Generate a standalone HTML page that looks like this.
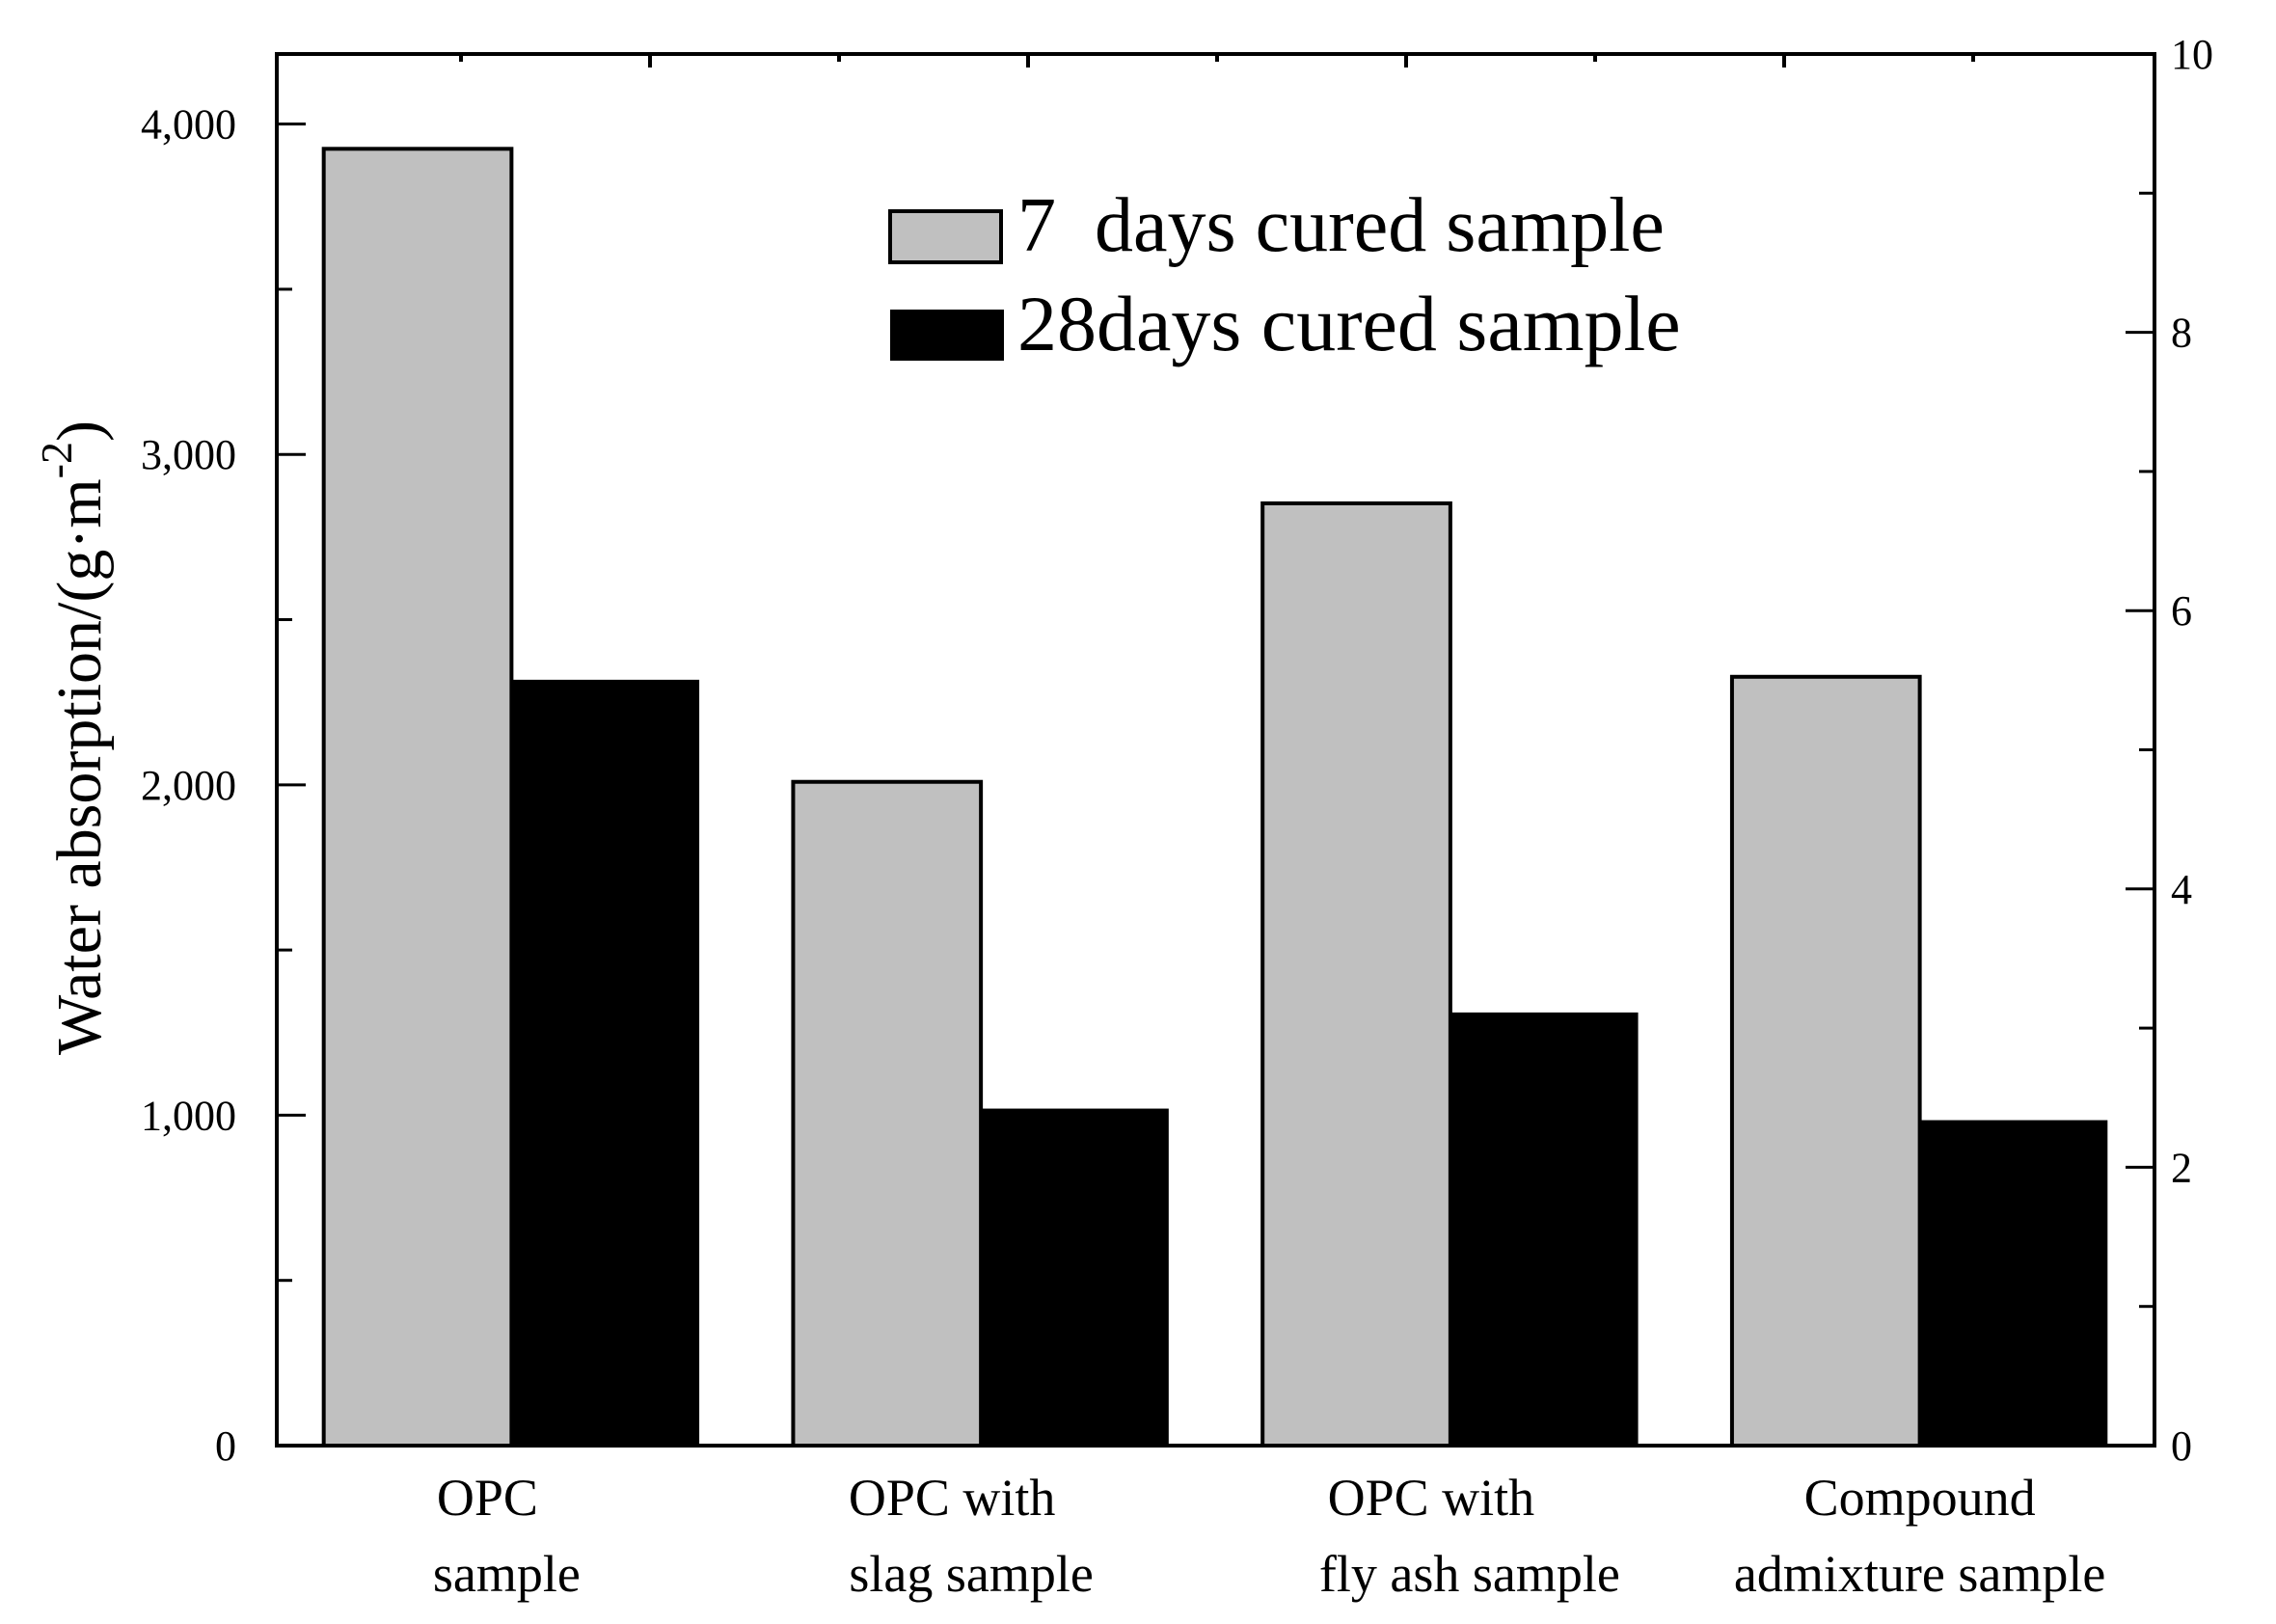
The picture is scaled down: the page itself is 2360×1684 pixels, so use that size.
<!DOCTYPE html>
<html><head><meta charset="utf-8"><style>
html,body{margin:0;padding:0;background:#fff;}
svg{display:block;font-family:"Liberation Serif",serif;}
</style></head><body>
<svg id="chart" width="2360" height="1684" viewBox="0 0 2360 1684" xmlns="http://www.w3.org/2000/svg">
<g id="marks"></g>
<rect x="287" y="56" width="1947" height="1443" fill="none" stroke="#000" stroke-width="4"/>
<g id="axes"></g>
<text transform="translate(104,765) rotate(-90)" text-anchor="middle" font-size="66">Water absorption/(g·m<tspan dy="-30" font-size="46">-2</tspan><tspan dy="30">)</tspan></text>
<g>
<rect x="923" y="219" width="115" height="53" fill="#c0c0c0" stroke="#000" stroke-width="4"/>
<text x="1055" y="260" font-size="80" style="white-space:pre" xml:space="preserve">7  days cured sample</text>
<rect x="923" y="321" width="118" height="53" fill="#000"/>
<text x="1055" y="363" font-size="82">28days cured sample</text>
</g>
</svg>
<script>
const categories = ["OPC sample","OPC with slag sample","OPC with fly ash sample","Compound admixture sample"];
const labelLine1 = ["OPC","OPC with","OPC with","Compound"];
const labelLine2 = ["sample","slag sample","fly ash sample","admixture sample"];
const values7 = [3925, 2009, 2852, 2327];
const values28 = [2318, 1020, 1311, 985];
const leftTicks = [0, 1000, 2000, 3000, 4000];
const leftTickLabels = ["0","1,000","2,000","3,000","4,000"];
const rightTicks = [0, 2, 4, 6, 8, 10];

const NS = "http://www.w3.org/2000/svg";
const L = 287, R = 2234, T = 56, B = 1499;
const yMax = 4212, rMax = 10;
const y = v => B - v / yMax * (B - T);
const yr = v => B - v / rMax * (B - T);
const x = i => L + (i + 0.5) / categories.length * (R - L);
const bw = 0.4 * (R - L) / categories.length;
const lineOffset1 = [-25, -30, -20, 0];
const lineOffset2 = [-5, -10, 20, 0];
function mk(tag, attrs, parent) { const e = document.createElementNS(NS, tag); for (const k in attrs) e.setAttribute(k, attrs[k]); parent.appendChild(e); return e; }
const marks = document.getElementById('marks');
const axes = document.getElementById('axes');
categories.forEach((c, i) => {
  const cx = x(i);
  const a = mk('rect', {x: cx - bw, y: y(values7[i]), width: bw, height: B - y(values7[i]), fill: '#c0c0c0', stroke: '#000', 'stroke-width': 4}, marks);
  
  
  const b = mk('rect', {x: cx, y: y(values28[i]), width: bw, height: B - y(values28[i]), fill: '#000'}, marks);
  
  
  const t1 = mk('text', {x: cx + lineOffset1[i], y: 1571, 'text-anchor': 'middle', 'font-size': 54}, axes);
  t1.textContent = labelLine1[i];
  
  
  const t2 = mk('text', {x: cx + lineOffset2[i], y: 1650, 'text-anchor': 'middle', 'font-size': 54}, axes);
  t2.textContent = labelLine2[i];
  
  
});
leftTicks.forEach((v, i) => {
  mk('line', {x1: L, x2: L + 30, y1: y(v), y2: y(v), stroke: '#000', 'stroke-width': 3}, axes);
  if (i < leftTicks.length - 1) { const m = (v + leftTicks[i + 1]) / 2; mk('line', {x1: L, x2: L + 16, y1: y(m), y2: y(m), stroke: '#000', 'stroke-width': 3}, axes); }
  const t = mk('text', {x: 245, y: y(v) + 15, 'text-anchor': 'end', 'font-size': 44}, axes);
  t.textContent = leftTickLabels[i];
  
  
});
rightTicks.forEach((v, i) => {
  mk('line', {x1: R, x2: R - 30, y1: yr(v), y2: yr(v), stroke: '#000', 'stroke-width': 3}, axes);
  if (i < rightTicks.length - 1) { const m = (v + rightTicks[i + 1]) / 2; mk('line', {x1: R, x2: R - 16, y1: yr(m), y2: yr(m), stroke: '#000', 'stroke-width': 3}, axes); }
  const t = mk('text', {x: 2251, y: yr(v) + 15, 'text-anchor': 'start', 'font-size': 44}, axes);
  t.textContent = String(v);
  
  
});
for (let k = 0; k < 9; k++) {
  const tx = 478 + 196 * k;
  if (tx >= R) break;
  mk('line', {x1: tx, x2: tx, y1: T, y2: T + (k % 2 ? 14 : 8), stroke: '#000', 'stroke-width': 4}, axes);
}
</script>
</body></html>
